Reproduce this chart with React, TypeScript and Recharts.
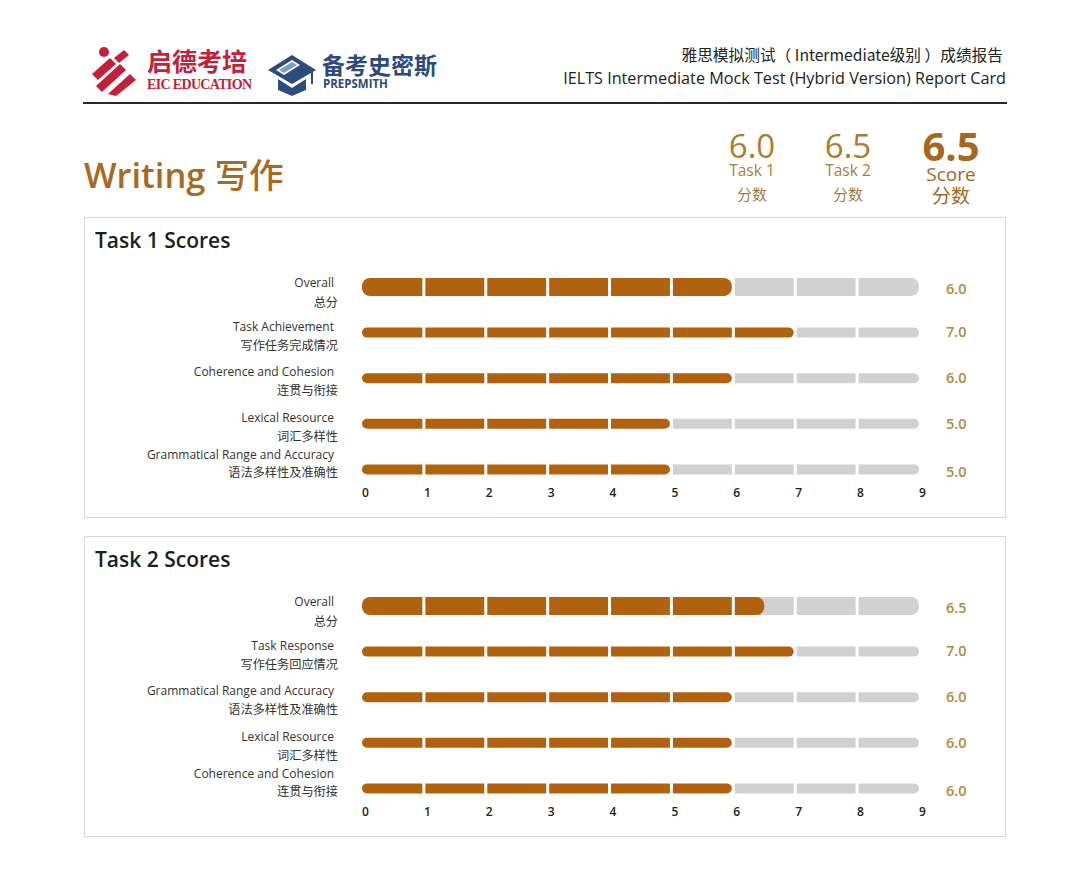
import React from "react";
import { BarChart, Bar, XAxis, YAxis } from "recharts";

const task1Categories = ["Overall", "Task Achievement", "Coherence and Cohesion", "Lexical Resource", "Grammatical Range and Accuracy"];
const task1CategoriesCn = ["总分", "写作任务完成情况", "连贯与衔接", "词汇多样性", "语法多样性及准确性"];
const task1Scores = [6.0, 7.0, 6.0, 5.0, 5.0];

const task2Categories = ["Overall", "Task Response", "Grammatical Range and Accuracy", "Lexical Resource", "Coherence and Cohesion"];
const task2CategoriesCn = ["总分", "写作任务回应情况", "语法多样性及准确性", "词汇多样性", "连贯与衔接"];
const task2Scores = [6.5, 7.0, 6.0, 6.0, 6.0];

const scaleTicks = [0, 1, 2, 3, 4, 5, 6, 7, 8, 9];
const headerScores = [
  { value: "6.0", en: "Task 1", cn: "分数" },
  { value: "6.5", en: "Task 2", cn: "分数" },
  { value: "6.5", en: "Score", cn: "分数" },
];

const FONT = "'Open Sans', 'Noto Sans CJK SC', sans-serif";
const CJK = "'Noto Sans CJK SC', 'Open Sans', sans-serif";
const FILL = "#b0620f";
const GRAY = "#d1d0d2";
const GOLD = "#b48a3a";

function rr(x: number, y: number, w: number, h: number, rl: number, rrad: number) {
  return `M${x + rl},${y} H${x + w - rrad} A${rrad},${rrad} 0 0 1 ${x + w},${y + rrad} V${y + h - rrad} A${rrad},${rrad} 0 0 1 ${x + w - rrad},${y + h} H${x + rl} A${rl},${rl} 0 0 1 ${x},${y + h - rl} V${y + rl} A${rl},${rl} 0 0 1 ${x + rl},${y} Z`;
}

function SegBar(props: any) {
  const { x, y, width, height, index, payload } = props;
  const score = payload.score;
  const unit = width / score;
  const thick = index === 0;
  const h = thick ? 18 : 10;
  const r = thick ? 8 : 5;
  const cy = y + height / 2;
  const top = cy - h / 2;
  const gap = 3;
  const els: any[] = [];
  for (let i = 0; i < 9; i++) {
    const s = x + i * unit + (i > 0 ? gap / 2 : 0);
    const e = x + (i + 1) * unit - (i < 8 ? gap / 2 : 0);
    if (i + 1 > score) {
      els.push(<path key={"g" + i} d={rr(s, top, e - s, h, i === 0 ? r : 0, i === 8 ? r : 0)} fill={GRAY} />);
    }
  }
  const lastFill = Math.ceil(score) - 1;
  for (let i = 0; i < score; i++) {
    const s = x + i * unit + (i > 0 ? gap / 2 : 0);
    let e = x + (i + 1) * unit - (i < 8 ? gap / 2 : 0);
    if (score < i + 1) e = x + score * unit;
    els.push(<path key={"f" + i} d={rr(s, top, e - s, h, i === 0 ? r : 0, i === lastFill ? r : 0)} fill={FILL} />);
  }
  return <g>{els}</g>;
}

function Panel({ top, title, categories, cn, scores }: any) {
  const data = categories.map((name: string, i: number) => ({ name, cn: cn[i], score: scores[i] }));
  const n = data.length;
  const enOff = (i: number) => (i === 0 ? -4 : i === n - 1 ? -15 : -6);
  const cnOff = (i: number) => (i === 0 ? 16 : i === n - 1 ? 3 : 13);
  const valOff = (i: number) => (i === 0 ? 2 : i === n - 1 ? 3 : 0);
  const LeftTick = (p: any) => {
    const i = p.index;
    const d = data[i];
    return (
      <g>
        <text x={334 - 84} y={p.y + enOff(i) + 4.3} textAnchor="end" fontSize={12} fill="#333" fontFamily={FONT}>{d.name}</text>
        <text x={338 - 84} y={p.y + cnOff(i) + 4.3} textAnchor="end" fontSize={12.2} fill="#333" fontFamily={CJK}>{d.cn}</text>
      </g>
    );
  };
  const RightTick = (p: any) => {
    const i = p.index;
    const d = data[i];
    return (
      <text x={946 - 84} y={p.y + valOff(i) + 5} textAnchor="start" fontSize={14.5} fontWeight={600} fill={GOLD} fontFamily={FONT}>{d.score.toFixed(1)}</text>
    );
  };
  const BottomTick = (p: any) => (
    <text x={p.x} y={p.y + 4.5} textAnchor="start" fontSize={12} fontWeight={600} fill="#222" fontFamily={FONT}>{p.payload.value}</text>
  );
  return (
    <>
      <div style={{ position: "absolute", left: 84, top, width: 922, height: 301, boxSizing: "border-box", border: "1.5px solid #d9d9d9" }} />
      <div style={{ position: "absolute", left: 95, top: top + 23 - 14, height: 28, lineHeight: "28px", fontSize: 21, fontWeight: 600, color: "#1e1e1e", fontFamily: FONT }}>{title}</div>
      <div style={{ position: "absolute", left: 84, top: top + 47 }}>
        <BarChart width={922} height={248} data={data} layout="vertical" margin={{ top: 0, right: 0, bottom: 0, left: 0 }}>
          <XAxis type="number" domain={[0, 9]} ticks={scaleTicks} axisLine={false} tickLine={false} tickSize={0} tickMargin={0} height={20} tick={<BottomTick />} interval={0} />
          <YAxis yAxisId="l" type="category" dataKey="name" width={278} axisLine={false} tickLine={false} tickSize={0} tick={<LeftTick />} interval={0} />
          <YAxis yAxisId="r" orientation="right" type="category" dataKey="name" width={87} axisLine={false} tickLine={false} tickSize={0} tick={<RightTick />} interval={0} />
          <Bar yAxisId="l" dataKey="score" barSize={18} shape={<SegBar />} isAnimationActive={false} />
        </BarChart>
      </div>
    </>
  );
}

function Logos() {
  return (
    <svg style={{ position: "absolute", left: 0, top: 0 }} width={460} height={110}>
      <g fill="#c41f3b">
        <circle cx={104} cy={52} r={5} />
        <path d="M92,74 L110,58 L116,64 L98,80 Z" />
        <path d="M96,86 L120,64 L126,70 L102,92 Z" />
        <path d="M108,94 L130,74 L136,80 L116,96 Z" />
        <path d="M114,58 L124,50 L129,55 L119,63 Z" />
      </g>
      <text x={147} y={71} fontSize={25} fontWeight={700} fill="#c41f3b" fontFamily={CJK}>启德考培</text>
      <text x={147} y={89} fontSize={14} fontWeight={700} fill="#c41f3b" fontFamily="'Liberation Serif', 'DejaVu Serif', serif" textLength={105}>EIC EDUCATION</text>
      <g>
        <path d="M268,70 L292,55 L316,70 L292,84 Z" fill="#2b4c7e" />
        <path d="M276,70 L292,60 L300,65 L284,75 Z" fill="#ffffff" />
        <path d="M279,70 L292,62 L297,65 L284,73 Z" fill="#7d9cc4" />
        <path d="M278,79 L292,88 L306,79 L306,90 L292,96 L278,90 Z" fill="#2b4c7e" />
        <rect x={311} y={72} width={2} height={12} fill="#2b4c7e" />
      </g>
      <text x={322} y={74} fontSize={23} fontWeight={700} fill="#2d4a7a" fontFamily={CJK}>备考史密斯</text>
      <text x={323} y={88} fontSize={11.5} fontWeight={700} fill="#2d4a7a" fontFamily={FONT}>PREPSMITH</text>
    </svg>
  );
}

export default function App() {
  return (
    <div style={{ position: "absolute", left: 0, top: 0, width: 1080, height: 871, background: "#fff", overflow: "hidden", fontFamily: FONT }}>
      <Logos />
      <div style={{ position: "absolute", right: 1080 - 1003, top: 55 - 11, height: 22, lineHeight: "22px", fontSize: 15.7, color: "#222", fontFamily: CJK, whiteSpace: "pre" }}>
        {"雅思模拟测试（ Intermediate级别 ）成绩报告"}
      </div>
      <div style={{ position: "absolute", right: 1080 - 1006, top: 78 - 11, height: 22, lineHeight: "22px", fontSize: 16.2, color: "#222", whiteSpace: "nowrap" }}>
        IELTS Intermediate Mock Test (Hybrid Version) Report Card
      </div>
      <div style={{ position: "absolute", left: 83, top: 102, width: 924, height: 2, background: "#2a2a2a" }} />

      <div style={{ position: "absolute", left: 84, top: 173 - 25, height: 50, lineHeight: "50px", fontSize: 34.5, fontWeight: 600, color: "#a86a22", whiteSpace: "pre" }}>
        {"Writing "}<span style={{ fontFamily: CJK, fontWeight: 500 }}>写作</span>
      </div>

      {headerScores.map((s, i) => {
        const cx = [752, 848, 951][i];
        const big = i === 2;
        return (
          <div key={i} style={{ position: "absolute", left: cx - 60, width: 120, top: 0, textAlign: "center", color: big ? "#a5681e" : "#ad7c34" }}>
            <div style={{ position: "absolute", left: 0, width: 120, top: 131, height: 30, lineHeight: "30px", fontSize: big ? 40 : 33, fontWeight: big ? 700 : 400 }}>{s.value}</div>
            <div style={{ position: "absolute", left: 0, width: 120, top: (big ? 174 : 170) - 8, height: 16, lineHeight: "16px", fontSize: big ? 19 : 15.5 }}>{s.en}</div>
            <div style={{ position: "absolute", left: 0, width: 120, top: (big ? 195 : 194) - 8, height: 16, lineHeight: "16px", fontSize: big ? 19 : 15, fontFamily: CJK }}>{s.cn}</div>
          </div>
        );
      })}

      <Panel top={217} title="Task 1 Scores" categories={task1Categories} cn={task1CategoriesCn} scores={task1Scores} />
      <Panel top={536} title="Task 2 Scores" categories={task2Categories} cn={task2CategoriesCn} scores={task2Scores} />
    </div>
  );
}
